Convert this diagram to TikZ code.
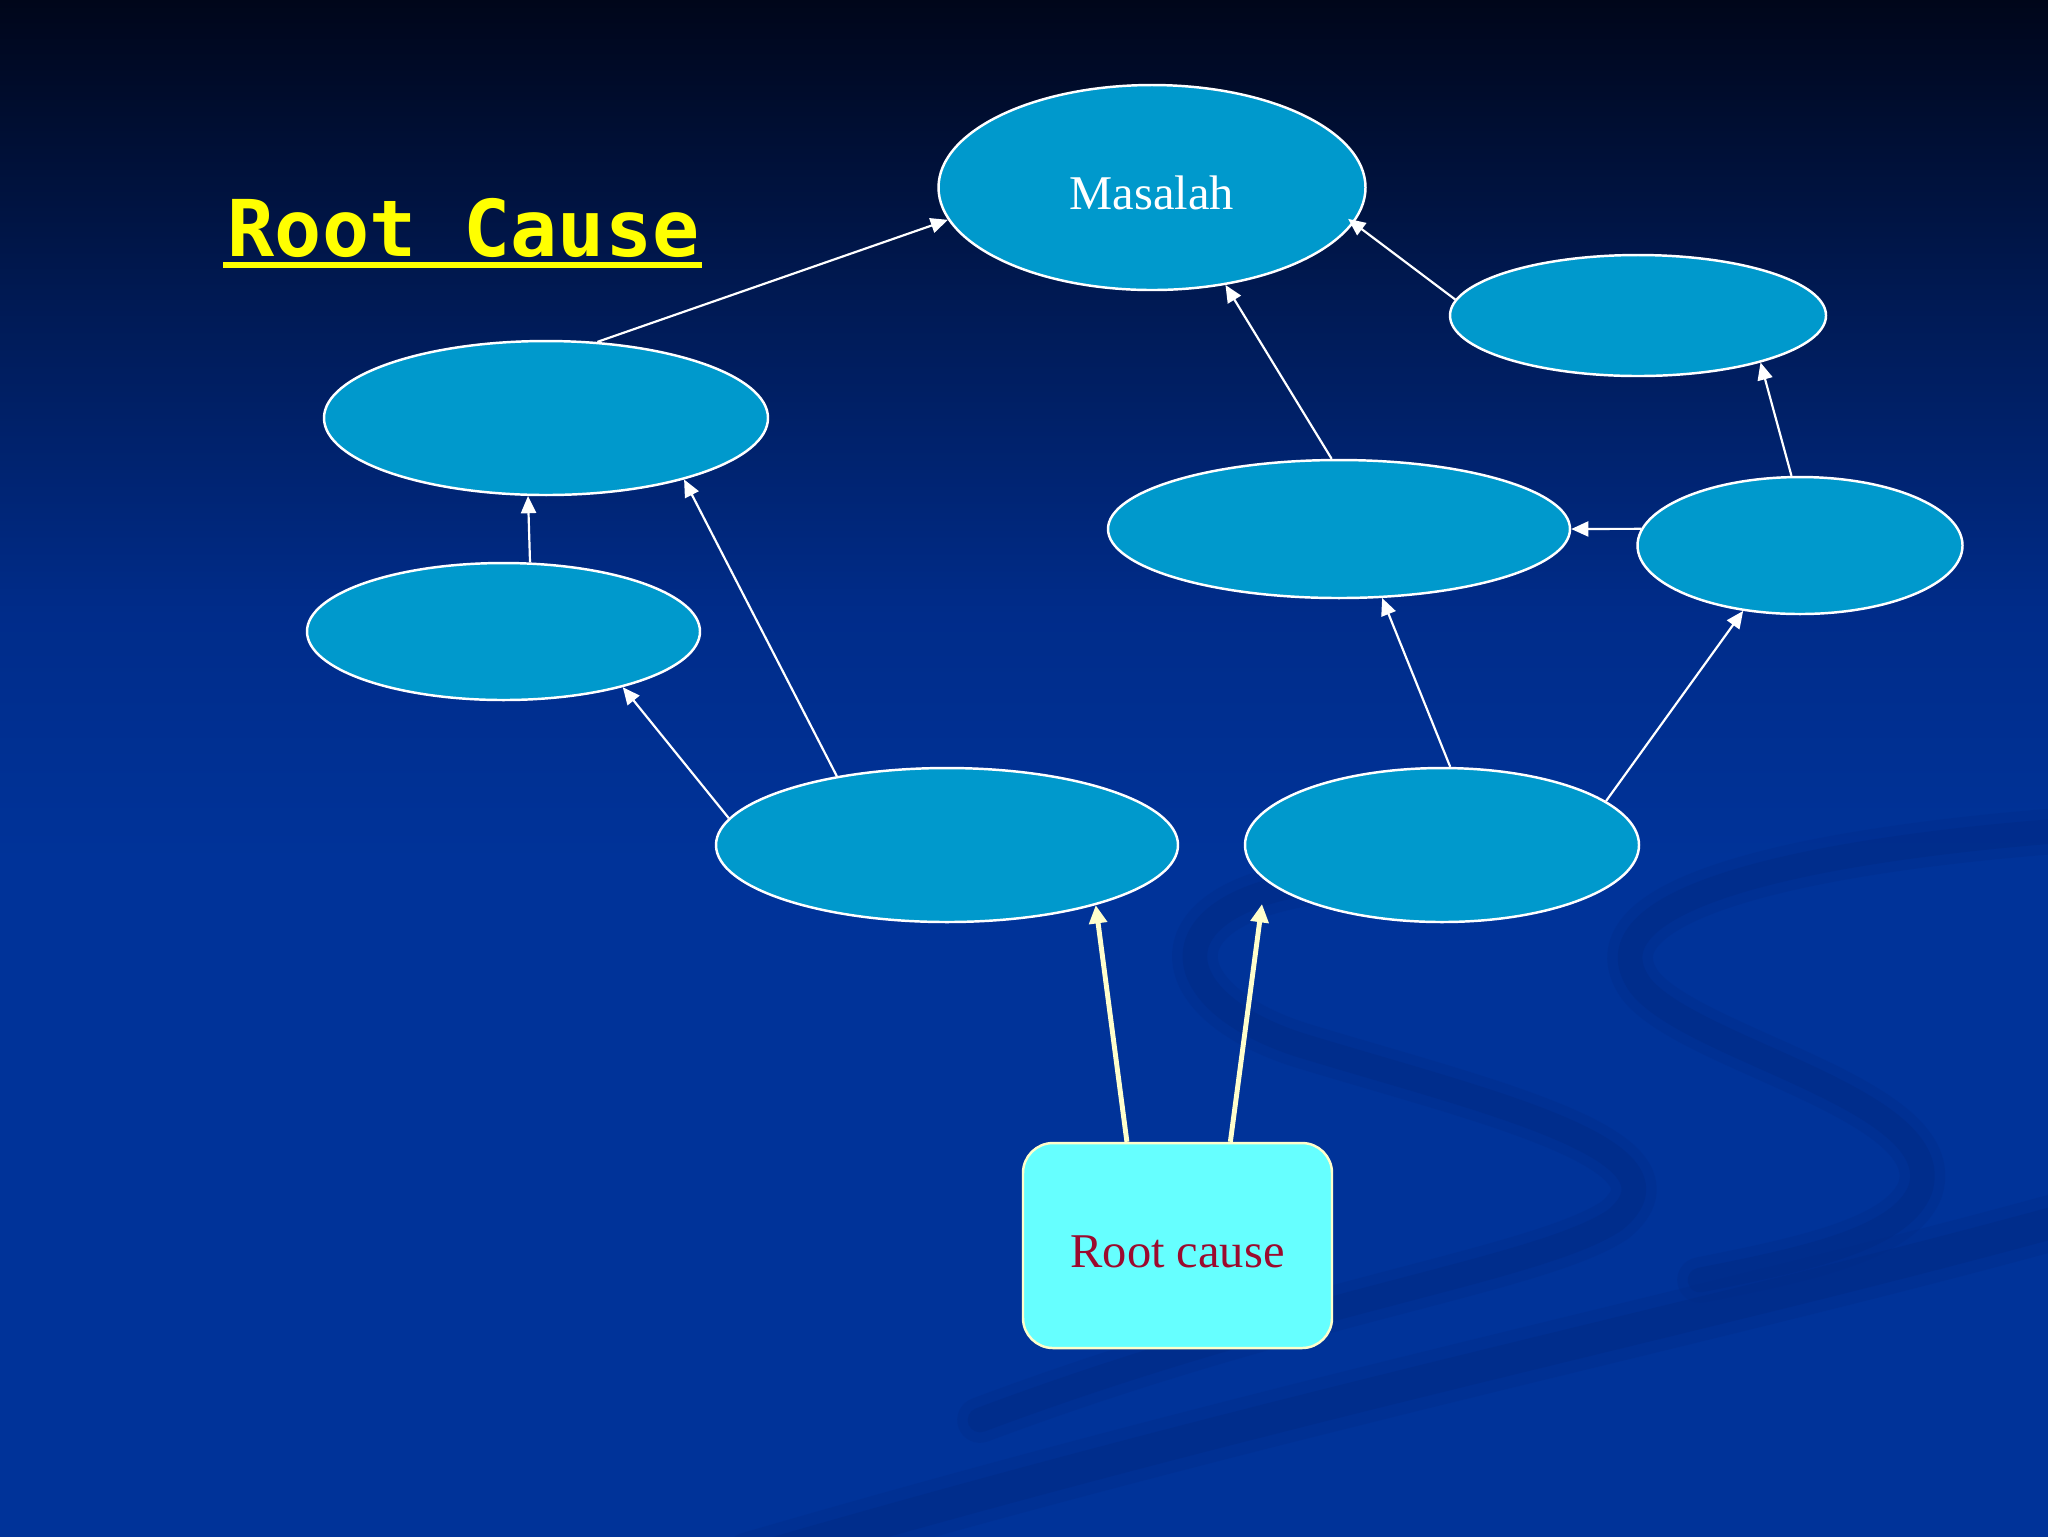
\documentclass[tikz,border=0pt]{standalone}
\usepackage{fontspec}
\setmainfont{Liberation Serif}
\newfontfamily\titlefont{DejaVu Sans Mono}
\usetikzlibrary{shapes.geometric,arrows.meta,calc}
\definecolor{ellfill}{HTML}{0099CC}
\definecolor{boxfill}{HTML}{66FFFF}
\definecolor{cream}{HTML}{FFFFCC}
\definecolor{rctext}{HTML}{9C0A2E}
\definecolor{bgA}{HTML}{003399}
\definecolor{bgB}{HTML}{002C8A}
\definecolor{bgC}{HTML}{001A55}
\definecolor{bgD}{HTML}{00061A}
\definecolor{swoosh}{HTML}{002A85}
\definecolor{ttl}{HTML}{FFFF00}
\pgfdeclareverticalshading{bgshade}{100bp}{color(0bp)=(bgA); color(25bp)=(bgA); color(47bp)=(bgA); color(55bp)=(bgB); color(65bp)=(bgC); color(75bp)=(bgD); color(100bp)=(bgD)}
\tikzset{
  ell/.style={ellipse, draw=white, line width=0.7pt, fill=ellfill, inner sep=0pt},
  rcbox/.style={rectangle, rounded corners=3mm, draw=cream, line width=0.7pt, fill=boxfill, inner sep=0pt},
  thinarrow/.style={draw=white, line width=0.62pt, -{Triangle[length=4.9pt,width=4.3pt]}},
  thickarrow/.style={draw=cream, line width=1.4pt, -{Triangle[length=5.2pt,width=5pt]}},
  swooshsoft/.style={draw=swoosh, line width=13pt, line cap=round, draw opacity=0.25},
  swooshcore/.style={draw=swoosh, line width=7pt, line cap=round, draw opacity=0.45}
}
\newcommand{\swooshA}{(1330,880) .. controls (1150,900) and (1160,1000) .. (1300,1045) .. controls (1480,1100) and (1700,1150) .. (1615,1220) .. controls (1540,1270) and (1300,1300) .. (980,1420)}
\newcommand{\swooshB}{(2070,830) .. controls (1800,850) and (1580,900) .. (1640,985) .. controls (1690,1050) and (1950,1100) .. (1920,1190) .. controls (1900,1240) and (1800,1260) .. (1700,1280)}
\newcommand{\swooshC}{(2070,1218) .. controls (1700,1320) and (1300,1400) .. (750,1560)}
\begin{document}
\begin{tikzpicture}[x=0.1mm,y=-0.1mm]
\useasboundingbox (0,0) rectangle (2048,1536);
\shade[shading=bgshade] (0,0) rectangle (2048,1536);
% background swooshes
\begin{scope}
\clip (0,0) rectangle (2048,1536);
\draw[swooshsoft] \swooshA;
\draw[swooshcore] \swooshA;
\draw[swooshsoft] \swooshB;
\draw[swooshcore] \swooshB;
\draw[swooshsoft, line width=16pt] \swooshC;
\draw[swooshcore, line width=9pt] \swooshC;
\end{scope}
% title
\node[anchor=base west, inner sep=0pt, text=ttl, font=\titlefont\bfseries\fontsize{22.3}{26}\selectfont] (title) at (227,256.7) {Root Cause};
\draw[ttl, line width=1.6pt] ($(title.base west)+(-4,8.5)$) -- ($(title.base east)+(2,8.5)$);
% ellipses
\node[ell, minimum width=42.7mm, minimum height=20.5mm, text=white, font=\fontsize{13.8}{16}\selectfont] (m) at (1152,187.5) {\raisebox{-1.5pt}[\height][\depth]{Masalah}};
\node[ell, minimum width=44.4mm, minimum height=15.4mm] (lt) at (546,418) {};
\node[ell, minimum width=39.3mm, minimum height=13.7mm] (lm) at (503.5,631.5) {};
\node[ell, minimum width=46.2mm, minimum height=15.4mm] (bm) at (947,845) {};
\node[ell, minimum width=39.4mm, minimum height=15.4mm] (br) at (1442,845) {};
\node[ell, minimum width=46.2mm, minimum height=13.8mm] (mr) at (1339,529) {};
\node[ell, minimum width=32.5mm, minimum height=13.7mm] (fr) at (1800,545.5) {};
\node[ell, minimum width=37.6mm, minimum height=12.1mm] (tr) at (1638,315.5) {};
% root cause box
\node[rcbox, minimum width=30.9mm, minimum height=20.5mm, text=rctext, font=\fontsize{13.8}{16}\selectfont] (rc) at (1177.5,1245.5) {\raisebox{-1.85pt}[\height][\depth]{Root cause}};
\coordinate (brtip) at (1262,904);
% connectors
\draw[thinarrow] (lt.56.5) -- (m.189.2);
\draw[thinarrow, shorten >=-2pt] (tr.175) -- (m.350.6);
\draw[thinarrow] (mr.96.6) -- (m.307.3);
\draw[thinarrow] (fr.97.5) -- (tr.339.8);
\draw[thinarrow] (fr.174) -- (mr.east);
\draw[thinarrow] (br.84) -- (mr.302.5);
\draw[thinarrow] (br.15.1) -- (fr.229.2);
\draw[thinarrow] (bm.148.7) -- (lt.336.4);
\draw[thinarrow] (bm.173.6) -- (lm.335.6);
\draw[thinarrow] (lm.69.4) -- (lt.257.5);
\draw[thickarrow] (rc.116.5) -- (bm.338.1);
\draw[thickarrow] (rc.63.9) -- (brtip);
\end{tikzpicture}
\end{document}
